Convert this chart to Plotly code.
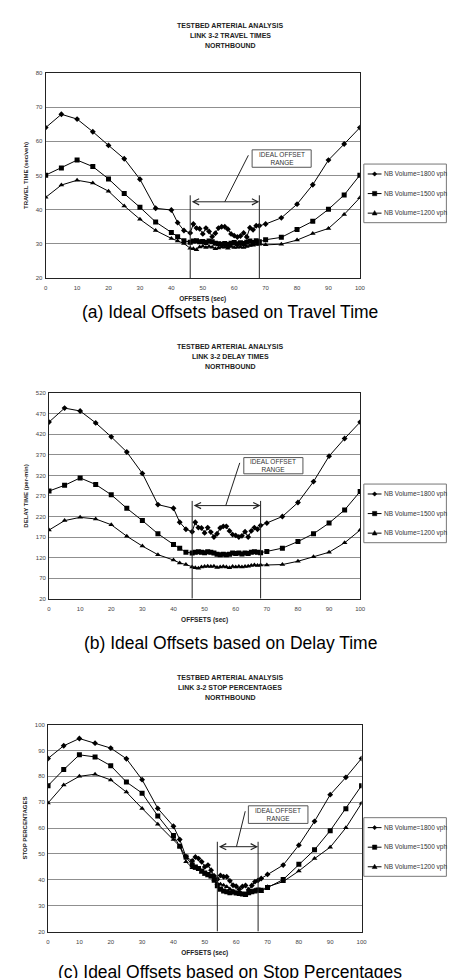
import plotly.graph_objects as go

# offsets (sec) shared by all three panels
OFFSETS = [0, 5, 10, 15, 20, 25, 30, 35, 40, 42, 44,
           46, 47, 48, 49, 50, 51, 52, 53, 54, 55, 56, 57, 58, 59, 60, 61, 62, 63, 64, 65, 66, 67, 68,
           70, 75, 80, 85, 90, 95, 100]

SERIES_NAMES = ["NB Volume=1800 vph", "NB Volume=1500 vph", "NB Volume=1200 vph"]

# (a) travel times (sec/veh)
TT_1800 = [64.0, 67.9, 66.5, 62.8, 58.8, 54.9, 48.9, 40.4, 39.9, 36.2, 33.9,
           33.2, 35.8, 34.6, 34.4, 32.9, 34.6, 33.6, 32.1, 33.1, 34.6, 35.0, 35.0, 34.3, 32.9, 32.4, 32.0,
           32.3, 33.2, 32.0, 34.7, 34.1, 35.3, 35.3,
           35.8, 37.6, 41.6, 47.3, 54.5, 59.2, 64.0]
TT_1500 = [50.1, 52.2, 54.5, 52.6, 49.0, 44.7, 40.7, 36.4, 33.3, 32.1, 30.9,
           30.5, 30.8, 30.9, 30.6, 30.7, 30.4, 30.8, 30.6, 30.2, 30.0, 29.9, 30.1, 29.8, 30.2, 30.4, 30.0,
           30.3, 30.1, 30.5, 30.8, 30.4, 30.9, 30.6,
           31.2, 31.9, 34.2, 36.6, 40.1, 44.3, 50.1]
TT_1200 = [43.6, 47.2, 48.6, 47.8, 45.4, 41.1, 37.2, 33.9, 31.6, 30.8, 30.1,
           28.7, 28.6, 28.3, 29.1, 29.3, 28.9, 29.2, 29.0, 28.6, 28.8, 29.1, 29.0, 28.7, 29.2, 28.9, 29.0,
           29.1, 28.9, 29.2, 29.5, 29.6, 29.8, 29.9,
           29.7, 29.9, 31.1, 33.0, 34.5, 38.6, 43.5]

# (b) delay times
DT_1800 = [450, 484, 477, 448, 414, 377, 325, 249, 240, 206, 189,
           183, 206, 193, 192, 180, 193, 182, 170, 178, 192, 196, 196, 185, 176, 174, 170,
           173, 183, 170, 185, 193, 189, 198,
           204, 220, 254, 305, 367, 410, 450]
DT_1500 = [282, 296, 314, 298, 273, 240, 210, 178, 152, 143, 133,
           131, 133, 134, 133, 132, 134, 133, 131, 128, 127, 128, 127, 128, 131, 130, 131,
           129, 131, 130, 133, 134, 133, 132,
           135, 143, 159, 178, 204, 236, 281]
DT_1200 = [187, 210, 218, 214, 200, 172, 148, 127, 114, 107, 103,
           97, 95, 94, 97, 98, 99, 98, 99, 96, 97, 98, 97, 95, 98, 97, 98,
           97, 98, 99, 101, 102, 101, 102,
           102, 103, 111, 122, 133, 156, 187]

# (c) stop percentages
SP_1800 = [86.9, 91.8, 94.6, 92.8, 90.9, 86.8, 78.7, 67.6, 60.7, 55.6, 48.9,
           47.3, 48.8, 48.2, 47.0, 45.0, 45.7, 43.7, 41.5, 40.2, 41.7, 41.2, 41.2, 39.6, 37.9, 37.5, 36.4,
           37.4, 37.8, 36.2, 37.8, 39.3, 39.8, 40.5,
           42.1, 45.7, 53.4, 62.6, 72.9, 79.6, 86.9]
SP_1500 = [76.4, 82.6, 88.3, 87.5, 84.1, 77.8, 73.5, 64.7, 57.1, 53.0, 48.8,
           45.7, 45.0, 44.4, 43.4, 42.6, 42.1, 41.5, 39.8, 37.7, 36.4, 35.7, 35.4, 35.0, 35.3, 34.9, 34.7,
           34.5, 34.3, 35.0, 35.4, 35.7, 36.1, 36.0,
           37.0, 40.1, 46.0, 51.6, 59.0, 67.5, 76.4]
SP_1200 = [69.7, 76.6, 80.0, 80.8, 78.6, 73.9, 67.6, 61.5, 55.6, 53.0, 47.0,
           44.7, 44.4, 43.9, 42.9, 42.1, 41.5, 41.1, 40.1, 38.6, 38.3, 37.9, 37.3, 36.5, 35.7, 35.0, 34.7,
           34.2, 34.6, 35.3, 35.7, 36.1, 35.7, 35.4,
           37.3, 39.3, 43.4, 48.2, 52.6, 60.1, 69.6]

TITLES = [
    ["TESTBED ARTERIAL ANALYSIS", "LINK 3-2 TRAVEL TIMES", "NORTHBOUND"],
    ["TESTBED ARTERIAL ANALYSIS", "LINK 3-2 DELAY TIMES", "NORTHBOUND"],
    ["TESTBED ARTERIAL ANALYSIS", "LINK 3-2 STOP PERCENTAGES", "NORTHBOUND"],
]
Y_TITLES = ["TRAVEL TIME (sec/veh)", "DELAY TIME (per-min)", "STOP PERCENTAGES"]
CAPTIONS = ["(a) Ideal Offsets based on Travel Time",
            "(b) Ideal Offsets based on Delay Time",
            "(c) Ideal Offsets based on Stop Percentages"]
Y_RANGES = [(20, 80, 10), (20, 520, 50), (20, 100, 10)]
IDEAL_RANGES = [(46, 68), (46, 68), (54, 67)]

# the page body keeps its 8px margin, so the figure sits at (8, 8) in the window
OFF = 8
W, H = 474 - OFF, 978 - OFF
FONT = "Liberation Sans"
SYMBOLS = ["diamond", "square", "triangle-up"]
SIZES = [4.5, 5, 5]


def fx(p):
    return (p - OFF) / W


def fy(p):
    return 1 - (p - OFF) / H


# panel geometry in window pixels: plot left, right, top, bottom, legend top, title lines y, caption y
PANELS = [
    dict(l=44.3, r=364.0, t=70.3, b=276.7, leg=162, ty=[23, 33, 43], cy=311,
         arrow_y=42.3, vtop=44.2, box=(65.7, 84.5, 52.4, 57.5), ptr=(64.5, 55.9, 57.0, 42.3)),
    dict(l=47.7, r=364.3, t=392.7, b=599.3, leg=484, ty=[345.7, 356, 365.7], cy=644.3,
         arrow_y=246.6, vtop=258, box=(62.6, 81.6, 324, 363.5), ptr=(61.3, 350.6, 56.8, 246.6)),
    dict(l=46.7, r=365.7, t=726.0, b=934.3, leg=819.7, ty=[679, 689, 699], cy=975,
         arrow_y=52.8, vtop=54.7, box=(63.9, 82.9, 61.8, 68.6), ptr=(62.9, 66.5, 60.1, 52.8)),
]

DATA = [[TT_1800, TT_1500, TT_1200],
        [DT_1800, DT_1500, DT_1200],
        [SP_1800, SP_1500, SP_1200]]

fig = go.Figure()
annotations = []
shapes = []
layout_axes = {}

for i, (pan, series) in enumerate(zip(PANELS, DATA)):
    n = i + 1
    xa, ya = ("x", "y") if n == 1 else ("x%d" % n, "y%d" % n)
    ymin, ymax, dy = Y_RANGES[i]

    for vals, name, sym, sz in zip(series, SERIES_NAMES, SYMBOLS, SIZES):
        fig.add_trace(go.Scatter(
            x=OFFSETS, y=vals, name=name, mode="lines+markers",
            xaxis=xa, yaxis=ya, showlegend=False,
            line=dict(color="black", width=1),
            marker=dict(symbol=sym, size=sz, color="black"),
        ))

    layout_axes["xaxis" if n == 1 else "xaxis%d" % n] = dict(
        domain=[fx(pan["l"]), fx(pan["r"])], anchor=ya, range=[0, 100],
        tick0=0, dtick=10, ticks="", ticklabelstandoff=4,
        showgrid=False, zeroline=False,
        showline=True, mirror=True, linecolor="#222", linewidth=1,
        tickfont=dict(family=FONT, size=6, color="#444"),
        title=dict(text="<b>OFFSETS (sec)</b>", standoff=6,
                   font=dict(family=FONT, size=6.5, color="#222")),
    )
    layout_axes["yaxis" if n == 1 else "yaxis%d" % n] = dict(
        domain=[fy(pan["b"]), fy(pan["t"])], anchor=xa, range=[ymin, ymax],
        tick0=ymin, dtick=dy, ticks="", ticklabelstandoff=1,
        showgrid=True, gridcolor="#8f8f8f",
        gridwidth=1, zeroline=False, showline=True, mirror=True,
        linecolor="#222", linewidth=1,
        tickfont=dict(family=FONT, size=6, color="#444"),
        title=dict(text="<b>%s</b>" % Y_TITLES[i], standoff=6,
                   font=dict(family=FONT, size=6, color="#222")),
    )

    # title lines
    for line, ty in zip(TITLES[i], pan["ty"]):
        annotations.append(dict(
            text="<b>%s</b>" % line, x=fx(232), y=fy(ty), xref="paper", yref="paper",
            showarrow=False, xanchor="center", yanchor="middle",
            font=dict(family=FONT, size=7, color="#222")))

    # caption
    annotations.append(dict(
        text=CAPTIONS[i], x=fx(232), y=fy(pan["cy"]), xref="paper", yref="paper",
        showarrow=False, xanchor="center", yanchor="middle",
        font=dict(family=FONT, size=17.5, color="black")))

    # ideal offset range markers
    lo, hi = IDEAL_RANGES[i]
    for xv in (lo, hi):
        shapes.append(dict(type="line", xref=xa, yref=ya, x0=xv, x1=xv,
                           y0=ymin, y1=pan["vtop"], line=dict(color="#222", width=1)))
    annotations.append(dict(
        x=hi, y=pan["arrow_y"], ax=lo, ay=pan["arrow_y"], xref=xa, yref=ya,
        axref=xa, ayref=ya, text="", showarrow=True, arrowside="end+start",
        arrowhead=5, startarrowhead=5, arrowsize=1.2, startarrowsize=1.2,
        arrowwidth=1, arrowcolor="#222"))
    px0, py0, px1, py1 = pan["ptr"]
    shapes.append(dict(type="line", xref=xa, yref=ya, x0=px0, y0=py0, x1=px1, y1=py1,
                       line=dict(color="#222", width=1)))
    bx0, bx1, by0, by1 = pan["box"]
    shapes.append(dict(type="rect", xref=xa, yref=ya, x0=bx0, x1=bx1, y0=by0, y1=by1,
                       line=dict(color="#555", width=1), fillcolor="white"))
    annotations.append(dict(
        text="IDEAL OFFSET<br>RANGE", x=(bx0 + bx1) / 2, y=(by0 + by1) / 2,
        xref=xa, yref=ya, showarrow=False, xanchor="center", yanchor="middle",
        font=dict(family=FONT, size=6.5, color="#333")))

    # legend box drawn as in the original sheet
    lt = pan["leg"]
    shapes.append(dict(type="rect", xref="paper", yref="paper",
                       x0=fx(368), x1=fx(452), y0=fy(lt + 59), y1=fy(lt),
                       line=dict(color="#777", width=1), fillcolor="white"))
    for k, (name, sym) in enumerate(zip(SERIES_NAMES, SYMBOLS)):
        cy = lt + 10 + 19.7 * k
        shapes.append(dict(type="line", xref="paper", yref="paper",
                           x0=fx(372), x1=fx(386), y0=fy(cy), y1=fy(cy),
                           line=dict(color="black", width=1)))
        cx = 379
        if sym == "diamond":
            pts = [(cx, cy - 2.2), (cx + 2.2, cy), (cx, cy + 2.2), (cx - 2.2, cy)]
        elif sym == "square":
            pts = [(cx - 2.2, cy - 2.2), (cx + 2.2, cy - 2.2), (cx + 2.2, cy + 2.2), (cx - 2.2, cy + 2.2)]
        else:
            pts = [(cx, cy - 2.6), (cx + 2.5, cy + 1.8), (cx - 2.5, cy + 1.8)]
        path = "M " + " L ".join("%.5f,%.5f" % (fx(a), fy(b)) for a, b in pts) + " Z"
        shapes.append(dict(type="path", xref="paper", yref="paper", path=path,
                           fillcolor="black", line=dict(color="black", width=0.5)))
        annotations.append(dict(
            text=name, x=fx(387), y=fy(cy), xref="paper", yref="paper",
            showarrow=False, xanchor="left", yanchor="middle",
            font=dict(family=FONT, size=6.5, color="#333")))

fig.update_layout(
    width=W, height=H, margin=dict(l=0, r=0, t=0, b=0),
    paper_bgcolor="white", plot_bgcolor="white",
    showlegend=False, annotations=annotations, shapes=shapes,
    **layout_axes,
)

fig.write_html("out.html")
